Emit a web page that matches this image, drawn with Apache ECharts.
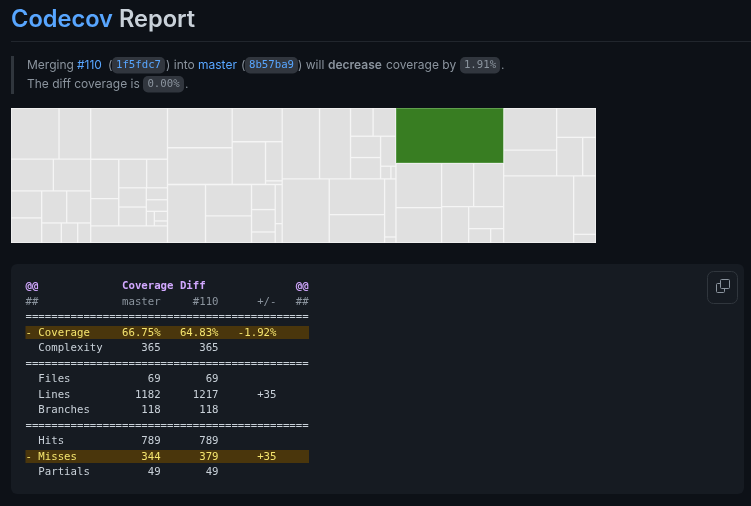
<!DOCTYPE html>
<html>
<head>
<meta charset="utf-8">
<style>
html, body { margin: 0; padding: 0; background: #0d1117; }
#chart { width: 751px; height: 506px; }
</style>
<script src="https://cdn.jsdelivr.net/npm/echarts@6/dist/echarts.min.js"></script>
</head>
<body>
<div id="chart"></div>
<script>
// tile sizes, nested arrays are folders.
// "sliver" is a next to nothing file, it makes the squarify layout close the current row
var sliver = 0.01;
var changedFile = 5922;
var dirA1 = [2448, 1615];
var dirA2 = [1341, 1182];
var dirA3 = [828, 767, 800, 768, 393, 327, 260];
var fileB = 3927;
var dirB = [[1101, 765, [793, 595, 528, 519, 252, sliver, 245, sliver, [117, sliver, 126, 65]]], 1309];
var dirC = [[2565, 2371, 1683, sliver, [1422, 650, 61]], sliver, [2217, [[1441, 1242, 592, 529, 260], [273, 135]]]];
var dirD = [2638, 2191, [635, 644, 640, 640, 460, 130, 64], 3008, [1974, 1568, 657, 68]];
var dirE = [changedFile, sliver, [2024, 1613, 1387, 1300, 981, [770, sliver, [315, 186]]]];
var dirF1 = [2226, 1360, 1154, [997, sliver, 511]];
var dirF2 = [4690, 1303, 194];
var treeRoot = [dirA1, dirA2, dirA3, fileB, dirB, dirC, dirD, dirE, dirF1, sliver, dirF2];

// coverage table
var rowLabels = ["- Coverage", "  Complexity", "  Files", "  Lines", "  Branches", "  Hits", "- Misses", "  Partials"];
var masterValues = ["66.75%", "365", "69", "1182", "118", "789", "344", "49"];
var prValues = ["64.83%", "365", "69", "1217", "118", "789", "379", "49"];
var diffValues = ["-1.92%", "", "", "+35", "", "", "+35", ""];
var rowCenters = [332, 347, 378, 394, 409, 440, 456, 471];
var ruleCenters = [316, 363, 425];

var tileColor = "#e0e0e0";
var edgeColor = "#f5f5f5";
var mono = '"DejaVu Sans Mono", monospace';
var sans = 'Inter, "Noto Sans", sans-serif';

var tileCount = 0;
function toNode(item) {
    tileCount++;
    if (Array.isArray(item)) {
        return { name: "d" + tileCount, children: item.map(toNode), itemStyle: { borderWidth: 0, gapWidth: 0, borderColor: edgeColor } };
    }
    var changed = item === changedFile;
    return {
        name: "f" + tileCount,
        value: item,
        itemStyle: {
            color: changed ? "#387d22" : tileColor,
            borderColor: changed ? "#6cab5c" : edgeColor,
            borderWidth: 0.65
        }
    };
}

function codeLine(y, str, fill, weight) {
    return {
        type: "text",
        style: {
            x: 25.5, y: y + 1, text: str, fill: fill,
            font: (weight || "normal") + " 10.7px " + mono,
            textVerticalAlign: "middle"
        }
    };
}

// one run of the quote text, kinds: g plain, s strong, l link
function quoteRun(x, y, str, kind) {
    return {
        type: "text",
        style: {
            x: x, y: y, text: str,
            fill: kind === "l" ? "#58a6ff" : "#8b949e",
            font: (kind === "s" ? "600" : "normal") + " 12px " + sans,
            textVerticalAlign: "middle"
        }
    };
}

// inline code chip
function quoteChip(x, width, y, str, fill) {
    return [
        { type: "rect", shape: { x: x, y: y - 8, width: width, height: 16.5, r: 5 }, style: { fill: "#31363e" } },
        { type: "text", style: { x: x + width / 2, y: y + 0.5, text: str, fill: fill, font: "10.7px " + mono, textAlign: "center", textVerticalAlign: "middle" } }
    ];
}

function buildGraphic() {
    var items = [];
    // heading
    items.push({
        type: "text",
        style: {
            x: 11, y: 20,
            text: "{a|Codecov}{b| Report}",
            textVerticalAlign: "middle",
            rich: {
                a: { fill: "#58a6ff", fontFamily: sans, fontSize: 23.6, fontWeight: 600 },
                b: { fill: "#c9d1d9", fontFamily: sans, fontSize: 23.6, fontWeight: 600 }
            }
        }
    });
    items.push({ type: "rect", shape: { x: 11, y: 41, width: 740, height: 1 }, style: { fill: "#21262d" } });
    // quote block
    items.push({ type: "rect", shape: { x: 11, y: 56, width: 3, height: 38 }, style: { fill: "#30363d" } });
    items.push(quoteRun(27, 65, "Merging", "g"));
    items.push(quoteRun(77, 65, "#110", "l"));
    items.push(quoteRun(108, 65, "(", "g"));
    items = items.concat(quoteChip(112, 53, 65, "1f5fdc7", "#58a6ff"));
    items.push(quoteRun(166, 65, ") into", "g"));
    items.push(quoteRun(198, 65, "master", "l"));
    items.push(quoteRun(241, 65, "(", "g"));
    items = items.concat(quoteChip(245, 53, 65, "8b57ba9", "#58a6ff"));
    items.push(quoteRun(298, 65, ") will", "g"));
    items.push(quoteRun(328, 65, "decrease", "s"));
    items.push(quoteRun(386, 65, "coverage by", "g"));
    items = items.concat(quoteChip(460, 40, 65, "1.91%", "#8b949e"));
    items.push(quoteRun(501, 65, ".", "g"));
    items.push(quoteRun(27, 84, "The diff coverage is", "g"));
    items = items.concat(quoteChip(143, 41, 84, "0.00%", "#8b949e"));
    items.push(quoteRun(185, 84, ".", "g"));
    // code panel
    items.push({ type: "rect", shape: { x: 11, y: 264, width: 733, height: 230, r: 6 }, style: { fill: "#161b22" } });
    items.push({ type: "rect", shape: { x: 707.5, y: 271.5, width: 30, height: 32, r: 6 }, style: { fill: "#161b22", stroke: "#30363d", lineWidth: 1 } });
    items.push({ type: "rect", shape: { x: 716.5, y: 283.5, width: 8, height: 9, r: 1 }, style: { fill: "none", stroke: "#8b949e", lineWidth: 1 } });
    items.push({ type: "rect", shape: { x: 720.5, y: 279.5, width: 9, height: 9, r: 1 }, style: { fill: "#161b22", stroke: "#8b949e", lineWidth: 1 } });

    var wide = 44;
    items.push(codeLine(285, "@@             Coverage Diff              @@", "#d2a8ff", "bold"));
    items.push(codeLine(301, "##             master     #110      +/-   ##", "#8b949e"));
    for (var r = 0; r < ruleCenters.length; r++)
        items.push(codeLine(ruleCenters[r], "=".repeat(wide), "#c9d1d9"));
    for (var i = 0; i < rowLabels.length; i++) {
        var minus = rowLabels[i].charAt(0) === "-";
        if (minus)
            items.push({ type: "rect", shape: { x: 25.5, y: rowCenters[i] - 6, width: 283.5, height: 13 }, style: { fill: "#4a360c" } });
        var str = rowLabels[i].padEnd(21 - masterValues[i].length) + masterValues[i]
            + prValues[i].padStart(9) + diffValues[i].padStart(9);
        items.push(codeLine(rowCenters[i], str, minus ? "#f5e56e" : "#c9d1d9"));
    }
    return items;
}

var myChart = echarts.init(document.getElementById("chart"));
var options = {
    backgroundColor: "#0d1117",
    animation: false,
    tooltip: { show: false },
    graphic: { elements: buildGraphic() },
    series: [{
        type: "treemap",
        left: 11,
        top: 108,
        width: 585,
        height: 135,
        sort: false,
        roam: false,
        nodeClick: false,
        silent: true,
        visibleMin: 0,
        breadcrumb: { show: false },
        label: { show: false },
        upperLabel: { show: false },
        itemStyle: { gapWidth: 0, borderWidth: 0, borderColor: edgeColor },
        data: treeRoot.map(toNode)
    }]
};
myChart.setOption(options);
</script>
</body>
</html>
